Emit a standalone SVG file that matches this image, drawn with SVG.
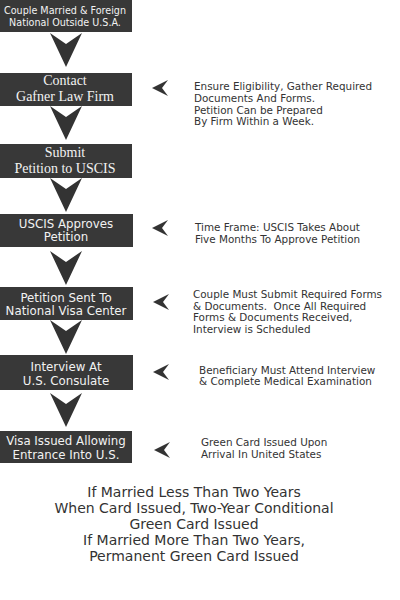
<svg xmlns="http://www.w3.org/2000/svg" width="400" height="600" viewBox="0 0 400 600">
<style>
.box{fill:#383838}
.bt{fill:#f2f2f2;font-family:"DejaVu Sans",Verdana,sans-serif;font-size:11.8px;text-anchor:middle}
.bs{fill:#f2f2f2;font-family:"Liberation Serif","Times New Roman",serif;font-size:14px;text-anchor:middle}
.note{fill:#333;font-family:"DejaVu Sans",Verdana,sans-serif;font-size:10.4px}
.foot{fill:#333;font-family:"DejaVu Sans",Verdana,sans-serif;font-size:14px;text-anchor:middle}
.chev{fill:#333}
</style>
<defs>
<path id="down" d="M-16,0 L0,11 L16,0 L0,34 Z"/>
<path id="left" d="M0,0 L16,-8 L10,0 L16,8 Z"/>
</defs>
<rect width="400" height="600" fill="#fff"/>
<g id="connectors" class="chev">
<use href="#down" x="66" y="33"/>
<use href="#down" x="66" y="106"/>
<use href="#down" x="66" y="178"/>
<use href="#down" x="66" y="251"/>
<use href="#down" x="66" y="320"/>
<use href="#down" x="66" y="393"/>
<use href="#left" x="152" y="88"/>
<use href="#left" x="152" y="228"/>
<use href="#left" x="153" y="302"/>
<use href="#left" x="153" y="372"/>
<use href="#left" x="154" y="450"/>
</g>
<g id="n1"><rect class="box" x="0" y="0" width="132" height="32"/>
<text class="bt" style="font-size:9.6px" x="65" y="14">Couple Married &amp; Foreign</text>
<text class="bt" style="font-size:9.6px" x="65" y="26">National Outside U.S.A.</text></g>
<g id="n2"><rect class="box" x="0" y="73" width="132" height="33"/>
<text class="bs" x="65" y="85">Contact</text>
<text class="bs" x="65" y="101">Gafner Law Firm</text></g>
<g id="n3"><rect class="box" x="0" y="144" width="132" height="34"/>
<text class="bs" x="65" y="157">Submit</text>
<text class="bs" x="65" y="173">Petition to USCIS</text></g>
<g id="n4"><rect class="box" x="0" y="214" width="133" height="33"/>
<text class="bt" x="66" y="228">USCIS Approves</text>
<text class="bt" x="66" y="241">Petition</text></g>
<g id="n5"><rect class="box" x="0" y="287" width="133" height="33"/>
<text class="bt" x="66" y="302">Petition Sent To</text>
<text class="bt" x="66" y="315">National Visa Center</text></g>
<g id="n6"><rect class="box" x="0" y="355" width="133" height="35"/>
<text class="bt" x="66" y="371">Interview At</text>
<text class="bt" x="66" y="384.5">U.S. Consulate</text></g>
<g id="n7"><rect class="box" x="0" y="431" width="132" height="32"/>
<text class="bt" x="66" y="445">Visa Issued Allowing</text>
<text class="bt" x="66" y="458.5">Entrance Into U.S.</text></g>
<g id="note1" class="note">
<text x="194" y="90">Ensure Eligibility, Gather Required</text>
<text x="194" y="101.8">Documents And Forms.</text>
<text x="194" y="113.6">Petition Can be Prepared</text>
<text x="194" y="125.4">By Firm Within a Week.</text></g>
<g id="note2" class="note">
<text x="195" y="231">Time Frame: USCIS Takes About</text>
<text x="195" y="243">Five Months To Approve Petition</text></g>
<g id="note3" class="note">
<text x="193" y="298">Couple Must Submit Required Forms</text>
<text x="193" y="309.5">&amp; Documents.&#160; Once All Required</text>
<text x="193" y="321">Forms &amp; Documents Received,</text>
<text x="193" y="332.5">Interview is Scheduled</text></g>
<g id="note4" class="note">
<text x="199" y="373.5">Beneficiary Must Attend Interview</text>
<text x="199" y="385">&amp; Complete Medical Examination</text></g>
<g id="note5" class="note">
<text x="201" y="446">Green Card Issued Upon</text>
<text x="201" y="457.5">Arrival In United States</text></g>
<g id="footer" class="foot">
<text x="194" y="497">If Married Less Than Two Years</text>
<text x="194" y="513">When Card Issued, Two-Year Conditional</text>
<text x="194" y="529">Green Card Issued</text>
<text x="194" y="545">If Married More Than Two Years,</text>
<text x="194" y="561">Permanent Green Card Issued</text></g>
</svg>
